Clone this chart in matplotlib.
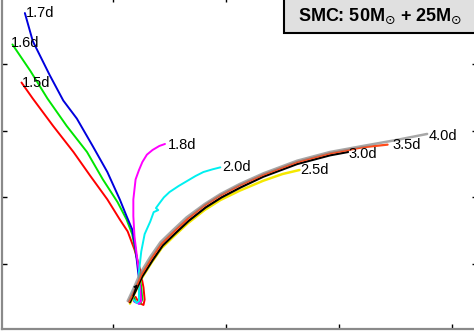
import matplotlib
matplotlib.use("Agg")
import matplotlib.pyplot as plt
from matplotlib.patches import Rectangle

plt.rcParams['mathtext.fontset'] = 'dejavusans'

# ---- data (arbitrary axis units; tick spacing = 1) ----
labels = ["1.5d", "1.6d", "1.7d", "1.8d", "2.0d", "2.5d", "3.0d", "3.5d", "4.0d"]
colors = ["#ff0000", "#00e600", "#0000dd", "#ff00ff", "#00f0f0",
          "#f5e800", "#000000", "#ff4a1a", "#8a8a8a"]

x_15 = [0.19, 0.29, 0.47, 0.65, 0.80, 0.95, 1.06, 1.13, 1.19, 1.24, 1.27, 1.28, 1.27, 1.23, 1.20]
y_15 = [3.72, 3.48, 3.07, 2.68, 2.32, 1.97, 1.67, 1.49, 1.22, 0.92, 0.65, 0.47, 0.39, 0.42, 0.51]

x_16 = [0.11, 0.27, 0.42, 0.59, 0.77, 0.91, 1.04, 1.12, 1.17, 1.20, 1.23, 1.25, 1.26, 1.24, 1.20, 1.18]
y_16 = [4.29, 3.89, 3.48, 3.07, 2.68, 2.27, 1.93, 1.67, 1.45, 1.19, 0.92, 0.65, 0.47, 0.41, 0.44, 0.53]

x_17 = [0.22, 0.29, 0.44, 0.56, 0.68, 0.82, 0.95, 1.06, 1.12, 1.17, 1.20, 1.22, 1.24, 1.25, 1.23, 1.19, 1.17]
y_17 = [4.76, 4.34, 3.83, 3.45, 3.18, 2.77, 2.38, 1.97, 1.72, 1.52, 1.22, 0.92, 0.65, 0.47, 0.41, 0.44, 0.53]

x_18 = [1.46, 1.41, 1.35, 1.30, 1.26, 1.23, 1.20, 1.19, 1.18, 1.18, 1.19, 1.21, 1.23, 1.24, 1.25, 1.23, 1.19]
y_18 = [2.80, 2.77, 2.71, 2.64, 2.53, 2.41, 2.27, 2.12, 1.97, 1.72, 1.42, 1.14, 0.89, 0.62, 0.45, 0.41, 0.44]

x_20 = [1.95, 1.88, 1.80, 1.73, 1.65, 1.58, 1.50, 1.45, 1.41, 1.38, 1.40, 1.36, 1.33, 1.28,
        1.25, 1.23, 1.23, 1.23, 1.21, 1.18]
y_20 = [2.45, 2.42, 2.38, 2.32, 2.24, 2.17, 2.08, 2.00, 1.91, 1.84, 1.81, 1.78, 1.64, 1.45,
        1.19, 0.89, 0.62, 0.45, 0.42, 0.47]

x_25 = [1.15, 1.19, 1.25, 1.34, 1.43, 1.54, 1.66, 1.81, 1.95, 2.12, 2.33, 2.50, 2.65]
y_25 = [0.41, 0.56, 0.78, 1.02, 1.24, 1.42, 1.61, 1.81, 1.96, 2.10, 2.25, 2.35, 2.41]

x_30 = [1.15, 1.20, 1.26, 1.35, 1.44, 1.55, 1.67, 1.82, 1.96, 2.13, 2.33, 2.63, 2.92, 3.08]
y_30 = [0.43, 0.60, 0.82, 1.06, 1.28, 1.46, 1.65, 1.85, 2.00, 2.15, 2.31, 2.50, 2.63, 2.68]

x_35 = [1.14, 1.19, 1.25, 1.34, 1.43, 1.54, 1.66, 1.81, 1.95, 2.12, 2.33, 2.63, 2.92, 3.21, 3.43]
y_35 = [0.44, 0.61, 0.84, 1.09, 1.31, 1.49, 1.68, 1.88, 2.03, 2.18, 2.34, 2.53, 2.66, 2.75, 2.79]

x_40 = [1.13, 1.18, 1.24, 1.33, 1.42, 1.53, 1.65, 1.81, 1.95, 2.12, 2.33, 2.63, 2.92, 3.21, 3.51, 3.78]
y_40 = [0.45, 0.63, 0.86, 1.11, 1.33, 1.51, 1.70, 1.90, 2.05, 2.20, 2.36, 2.55, 2.68, 2.77, 2.86, 2.95]

# small black hook near the start of the tracks
x_hook = [1.18, 1.21, 1.19]
y_hook = [0.53, 0.68, 0.66]

# label anchor positions (left edge, vertical centre)
label_x = [0.19, 0.10, 0.23, 1.49, 1.97, 2.66, 3.08, 3.47, 3.79]
label_y = [3.72, 4.31, 4.76, 2.79, 2.45, 2.41, 2.65, 2.79, 2.92]

xs = [x_15, x_16, x_17, x_18, x_20, x_25, x_30, x_35, x_40]
ys = [y_15, y_16, y_17, y_18, y_20, y_25, y_30, y_35, y_40]

xticks = [1, 2, 3, 4]
yticks = [1, 2, 3, 4]

# ---- figure ----
fig = plt.figure(figsize=(4.74, 3.31), dpi=100)
ax = fig.add_axes([2 / 474, 2 / 331, 475 / 474, 332 / 331])
ax.set_xlim(2 / 113, 477 / 113)
ax.set_ylim(2 / 66.4, 332 / 66.4)

for i in range(len(xs)):
    alpha = 0.75 if i == 8 else 1.0
    lw = {5: 1.8, 6: 1.6, 7: 1.6, 8: 1.8}.get(i, 1.4)
    ax.plot(xs[i], ys[i], color=colors[i], lw=lw, alpha=alpha,
            solid_capstyle='round', solid_joinstyle='round', zorder=2 + i * 0.1)
ax.plot(x_hook, y_hook, color='black', lw=1.2, zorder=4)

for lab, lx, ly in zip(labels, label_x, label_y):
    ax.text(lx, ly, lab, fontsize=10.5, family='Liberation Sans',
            ha='left', va='center', color='black', zorder=5)

ax.set_xticks(xticks)
ax.set_yticks(yticks)
ax.tick_params(direction='in', length=3.8, width=1.0, color='black',
               top=True, right=True, labelbottom=False, labelleft=False)
for side in ['left', 'bottom']:
    ax.spines[side].set_color('#8a8a8a')
    ax.spines[side].set_linewidth(1.6)
for side in ['top', 'right']:
    ax.spines[side].set_visible(False)

# title box (top right)
rect = Rectangle((284 / 474, (331 - 33) / 331), 0.45, 0.15,
                 transform=fig.transFigure, facecolor='#e0e0e0',
                 edgecolor='black', lw=1.5, zorder=10, clip_on=False)
fig.patches.append(rect)
fig.text(298 / 474, (331 - 21) / 331,
         r"SMC: 50M$_{\odot}$ + 25M$_{\odot}$",
         fontsize=13, fontweight='bold', family='Liberation Sans',
         ha='left', va='baseline', zorder=11)

fig.savefig("out.png", dpi=100)
